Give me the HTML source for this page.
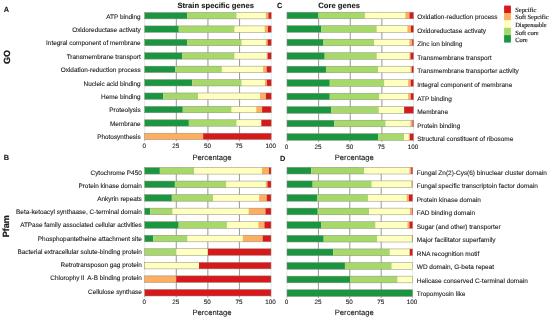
<!DOCTYPE html>
<html><head><meta charset="utf-8"><title>Figure</title>
<style>
html,body{margin:0;padding:0;background:#fff;}
svg{display:block;}
text{font-family:"Liberation Sans","Noto Sans CJK SC",sans-serif;fill:#1a1a1a;stroke:#1a1a1a;stroke-width:0.1px;text-rendering:geometricPrecision;}

.tk{font-size:6.3px;}
.ax{font-size:7.65px;}
.tt{font-size:7.65px;font-weight:bold;}
.pl{font-size:7.4px;font-weight:bold;}
.yl{font-size:9px;font-weight:bold;stroke-width:0.2px;}
.lg{font-family:"Liberation Serif",serif;font-size:6.45px;stroke-width:0.15px;}
</style></head><body>
<svg width="550" height="318" viewBox="0 0 550 318">
<rect width="550" height="318" fill="#fff"/>
<line x1="176.32" y1="12.50" x2="176.32" y2="141.20" stroke="#4a4a4a" stroke-width="0.58"/>
<line x1="207.95" y1="12.50" x2="207.95" y2="141.20" stroke="#4a4a4a" stroke-width="0.58"/>
<line x1="239.57" y1="12.50" x2="239.57" y2="141.20" stroke="#4a4a4a" stroke-width="0.58"/>
<line x1="144.70" y1="139.60" x2="144.70" y2="141.20" stroke="#999" stroke-width="0.6"/>
<line x1="271.20" y1="139.60" x2="271.20" y2="141.20" stroke="#999" stroke-width="0.6"/>
<line x1="144.70" y1="12.50" x2="144.70" y2="139.60" stroke="#cfd3d8" stroke-width="0.5"/>
<line x1="271.20" y1="12.50" x2="271.20" y2="139.60" stroke="#cfd3d8" stroke-width="0.5"/>
<rect x="144.70" y="12.50" width="42.38" height="6.40" fill="#1a9641"/>
<rect x="187.08" y="12.50" width="49.59" height="6.40" fill="#a6d96a"/>
<rect x="236.67" y="12.50" width="29.22" height="6.40" fill="#ffffbf"/>
<rect x="265.89" y="12.50" width="2.53" height="6.40" fill="#fdae61"/>
<rect x="268.42" y="12.50" width="2.78" height="6.40" fill="#d7191c"/>
<rect x="144.70" y="12.50" width="126.50" height="6.40" fill="none" stroke="#8c8c7a" stroke-width="0.5"/>
<text x="140.70" y="18.60" text-anchor="end" class="lb" font-size="6.43">ATP binding</text>
<rect x="144.70" y="25.91" width="34.03" height="6.40" fill="#1a9641"/>
<rect x="178.73" y="25.91" width="55.91" height="6.40" fill="#a6d96a"/>
<rect x="234.64" y="25.91" width="29.98" height="6.40" fill="#ffffbf"/>
<rect x="264.62" y="25.91" width="3.29" height="6.40" fill="#fdae61"/>
<rect x="267.91" y="25.91" width="3.29" height="6.40" fill="#d7191c"/>
<rect x="144.70" y="25.91" width="126.50" height="6.40" fill="none" stroke="#8c8c7a" stroke-width="0.5"/>
<text x="140.70" y="32.01" text-anchor="end" class="lb" font-size="6.43">Oxidoreductase activaty</text>
<rect x="144.70" y="39.32" width="42.38" height="6.40" fill="#1a9641"/>
<rect x="187.08" y="39.32" width="54.65" height="6.40" fill="#a6d96a"/>
<rect x="241.73" y="39.32" width="24.16" height="6.40" fill="#ffffbf"/>
<rect x="265.89" y="39.32" width="1.77" height="6.40" fill="#fdae61"/>
<rect x="267.66" y="39.32" width="3.54" height="6.40" fill="#d7191c"/>
<rect x="144.70" y="39.32" width="126.50" height="6.40" fill="none" stroke="#8c8c7a" stroke-width="0.5"/>
<text x="140.70" y="45.42" text-anchor="end" class="lb" font-size="6.43">Integral component of membrane</text>
<rect x="144.70" y="52.73" width="37.32" height="6.40" fill="#1a9641"/>
<rect x="182.02" y="52.73" width="52.62" height="6.40" fill="#a6d96a"/>
<rect x="234.64" y="52.73" width="32.00" height="6.40" fill="#ffffbf"/>
<rect x="266.65" y="52.73" width="1.01" height="6.40" fill="#fdae61"/>
<rect x="267.66" y="52.73" width="3.54" height="6.40" fill="#d7191c"/>
<rect x="144.70" y="52.73" width="126.50" height="6.40" fill="none" stroke="#8c8c7a" stroke-width="0.5"/>
<text x="140.70" y="58.83" text-anchor="end" class="lb" font-size="6.43">Transmembrane transport</text>
<rect x="144.70" y="66.14" width="30.49" height="6.40" fill="#1a9641"/>
<rect x="175.19" y="66.14" width="46.68" height="6.40" fill="#a6d96a"/>
<rect x="221.87" y="66.14" width="41.24" height="6.40" fill="#ffffbf"/>
<rect x="263.10" y="66.14" width="3.54" height="6.40" fill="#fdae61"/>
<rect x="266.65" y="66.14" width="4.55" height="6.40" fill="#d7191c"/>
<rect x="144.70" y="66.14" width="126.50" height="6.40" fill="none" stroke="#8c8c7a" stroke-width="0.5"/>
<text x="140.70" y="72.24" text-anchor="end" class="lb" font-size="6.43">Oxidation-reduction process</text>
<rect x="144.70" y="79.56" width="47.56" height="6.40" fill="#1a9641"/>
<rect x="192.26" y="79.56" width="49.46" height="6.40" fill="#a6d96a"/>
<rect x="241.73" y="79.56" width="23.15" height="6.40" fill="#ffffbf"/>
<rect x="264.88" y="79.56" width="2.02" height="6.40" fill="#fdae61"/>
<rect x="266.90" y="79.56" width="4.30" height="6.40" fill="#d7191c"/>
<rect x="144.70" y="79.56" width="126.50" height="6.40" fill="none" stroke="#8c8c7a" stroke-width="0.5"/>
<text x="140.70" y="85.66" text-anchor="end" class="lb" font-size="6.43">Nucleic acid binding</text>
<rect x="144.70" y="92.97" width="18.34" height="6.40" fill="#1a9641"/>
<rect x="163.04" y="92.97" width="35.04" height="6.40" fill="#a6d96a"/>
<rect x="198.08" y="92.97" width="61.98" height="6.40" fill="#ffffbf"/>
<rect x="260.07" y="92.97" width="5.82" height="6.40" fill="#fdae61"/>
<rect x="265.89" y="92.97" width="5.31" height="6.40" fill="#d7191c"/>
<rect x="144.70" y="92.97" width="126.50" height="6.40" fill="none" stroke="#8c8c7a" stroke-width="0.5"/>
<text x="140.70" y="99.07" text-anchor="end" class="lb" font-size="6.43">Heme binding</text>
<rect x="144.70" y="106.38" width="38.08" height="6.40" fill="#1a9641"/>
<rect x="182.78" y="106.38" width="48.83" height="6.40" fill="#a6d96a"/>
<rect x="231.61" y="106.38" width="24.67" height="6.40" fill="#ffffbf"/>
<rect x="256.27" y="106.38" width="5.82" height="6.40" fill="#fdae61"/>
<rect x="262.09" y="106.38" width="9.11" height="6.40" fill="#d7191c"/>
<rect x="144.70" y="106.38" width="126.50" height="6.40" fill="none" stroke="#8c8c7a" stroke-width="0.5"/>
<text x="140.70" y="112.48" text-anchor="end" class="lb" font-size="6.43">Proteolysis</text>
<rect x="144.70" y="119.79" width="44.15" height="6.40" fill="#1a9641"/>
<rect x="188.85" y="119.79" width="47.82" height="6.40" fill="#a6d96a"/>
<rect x="236.67" y="119.79" width="24.67" height="6.40" fill="#ffffbf"/>
<rect x="261.33" y="119.79" width="9.87" height="6.40" fill="#d7191c"/>
<rect x="144.70" y="119.79" width="126.50" height="6.40" fill="none" stroke="#8c8c7a" stroke-width="0.5"/>
<text x="140.70" y="125.89" text-anchor="end" class="lb" font-size="6.43">Membrane</text>
<rect x="144.70" y="133.20" width="58.44" height="6.40" fill="#fdae61"/>
<rect x="203.14" y="133.20" width="68.06" height="6.40" fill="#d7191c"/>
<rect x="144.70" y="133.20" width="126.50" height="6.40" fill="none" stroke="#8c8c7a" stroke-width="0.5"/>
<text x="140.70" y="139.30" text-anchor="end" class="lb" font-size="6.43">Photosynthesis</text>
<text x="144.20" y="148.20" text-anchor="middle" class="tk">0</text>
<text x="175.82" y="148.20" text-anchor="middle" class="tk">25</text>
<text x="207.45" y="148.20" text-anchor="middle" class="tk">50</text>
<text x="239.07" y="148.20" text-anchor="middle" class="tk">75</text>
<text x="270.70" y="148.20" text-anchor="middle" class="tk">100</text>
<text x="212.00" y="159.50" text-anchor="middle" class="ax">Percentage</text>
<line x1="318.62" y1="12.20" x2="318.62" y2="141.90" stroke="#4a4a4a" stroke-width="0.58"/>
<line x1="350.25" y1="12.20" x2="350.25" y2="141.90" stroke="#4a4a4a" stroke-width="0.58"/>
<line x1="381.88" y1="12.20" x2="381.88" y2="141.90" stroke="#4a4a4a" stroke-width="0.58"/>
<line x1="287.00" y1="140.30" x2="287.00" y2="141.90" stroke="#999" stroke-width="0.6"/>
<line x1="413.50" y1="140.30" x2="413.50" y2="141.90" stroke="#999" stroke-width="0.6"/>
<line x1="287.00" y1="12.20" x2="287.00" y2="140.30" stroke="#cfd3d8" stroke-width="0.5"/>
<line x1="413.50" y1="12.20" x2="413.50" y2="140.30" stroke="#cfd3d8" stroke-width="0.5"/>
<rect x="287.00" y="12.20" width="31.25" height="6.60" fill="#1a9641"/>
<rect x="318.25" y="12.20" width="46.68" height="6.60" fill="#a6d96a"/>
<rect x="364.92" y="12.20" width="40.48" height="6.60" fill="#ffffbf"/>
<rect x="405.40" y="12.20" width="4.05" height="6.60" fill="#fdae61"/>
<rect x="409.45" y="12.20" width="4.05" height="6.60" fill="#d7191c"/>
<rect x="287.00" y="12.20" width="126.50" height="6.60" fill="none" stroke="#8c8c7a" stroke-width="0.5"/>
<text x="417.20" y="19.30" text-anchor="start" class="lb" font-size="6.46">Oxidation-reduction process</text>
<rect x="287.00" y="25.70" width="34.41" height="6.60" fill="#1a9641"/>
<rect x="321.41" y="25.70" width="55.41" height="6.60" fill="#a6d96a"/>
<rect x="376.81" y="25.70" width="30.61" height="6.60" fill="#ffffbf"/>
<rect x="407.43" y="25.70" width="3.54" height="6.60" fill="#fdae61"/>
<rect x="410.97" y="25.70" width="2.53" height="6.60" fill="#d7191c"/>
<rect x="287.00" y="25.70" width="126.50" height="6.60" fill="none" stroke="#8c8c7a" stroke-width="0.5"/>
<text x="417.20" y="32.83" text-anchor="start" class="lb" font-size="6.46">Oxidoreductase activaty</text>
<rect x="287.00" y="39.20" width="36.43" height="6.60" fill="#1a9641"/>
<rect x="323.43" y="39.20" width="50.85" height="6.60" fill="#a6d96a"/>
<rect x="374.28" y="39.20" width="35.17" height="6.60" fill="#ffffbf"/>
<rect x="409.45" y="39.20" width="2.78" height="6.60" fill="#fdae61"/>
<rect x="412.24" y="39.20" width="1.26" height="6.60" fill="#d7191c"/>
<rect x="287.00" y="39.20" width="126.50" height="6.60" fill="none" stroke="#8c8c7a" stroke-width="0.5"/>
<text x="417.20" y="46.37" text-anchor="start" class="lb" font-size="6.46">Zinc ion binding</text>
<rect x="287.00" y="52.70" width="37.70" height="6.60" fill="#1a9641"/>
<rect x="324.70" y="52.70" width="52.12" height="6.60" fill="#a6d96a"/>
<rect x="376.81" y="52.70" width="32.64" height="6.60" fill="#ffffbf"/>
<rect x="409.45" y="52.70" width="1.01" height="6.60" fill="#fdae61"/>
<rect x="410.46" y="52.70" width="3.04" height="6.60" fill="#d7191c"/>
<rect x="287.00" y="52.70" width="126.50" height="6.60" fill="none" stroke="#8c8c7a" stroke-width="0.5"/>
<text x="417.20" y="59.90" text-anchor="start" class="lb" font-size="6.46">Transmembrane transport</text>
<rect x="287.00" y="66.20" width="38.96" height="6.60" fill="#1a9641"/>
<rect x="325.96" y="66.20" width="52.12" height="6.60" fill="#a6d96a"/>
<rect x="378.08" y="66.20" width="32.38" height="6.60" fill="#ffffbf"/>
<rect x="410.46" y="66.20" width="1.26" height="6.60" fill="#fdae61"/>
<rect x="411.73" y="66.20" width="1.77" height="6.60" fill="#d7191c"/>
<rect x="287.00" y="66.20" width="126.50" height="6.60" fill="none" stroke="#8c8c7a" stroke-width="0.5"/>
<text x="417.20" y="73.43" text-anchor="start" class="lb" font-size="6.46">Transmembrane transporter activity</text>
<rect x="287.00" y="79.70" width="42.76" height="6.60" fill="#1a9641"/>
<rect x="329.76" y="79.70" width="54.65" height="6.60" fill="#a6d96a"/>
<rect x="384.40" y="79.70" width="23.78" height="6.60" fill="#ffffbf"/>
<rect x="408.19" y="79.70" width="2.53" height="6.60" fill="#fdae61"/>
<rect x="410.72" y="79.70" width="2.78" height="6.60" fill="#d7191c"/>
<rect x="287.00" y="79.70" width="126.50" height="6.60" fill="none" stroke="#8c8c7a" stroke-width="0.5"/>
<text x="417.20" y="86.97" text-anchor="start" class="lb" font-size="6.46">Integral component of membrane</text>
<rect x="287.00" y="93.20" width="42.76" height="6.60" fill="#1a9641"/>
<rect x="329.76" y="93.20" width="49.59" height="6.60" fill="#a6d96a"/>
<rect x="379.35" y="93.20" width="28.84" height="6.60" fill="#ffffbf"/>
<rect x="408.19" y="93.20" width="2.53" height="6.60" fill="#fdae61"/>
<rect x="410.72" y="93.20" width="2.78" height="6.60" fill="#d7191c"/>
<rect x="287.00" y="93.20" width="126.50" height="6.60" fill="none" stroke="#8c8c7a" stroke-width="0.5"/>
<text x="417.20" y="100.50" text-anchor="start" class="lb" font-size="6.46">ATP binding</text>
<rect x="287.00" y="106.70" width="44.02" height="6.60" fill="#1a9641"/>
<rect x="331.02" y="106.70" width="47.82" height="6.60" fill="#a6d96a"/>
<rect x="378.84" y="106.70" width="25.30" height="6.60" fill="#ffffbf"/>
<rect x="404.14" y="106.70" width="9.36" height="6.60" fill="#d7191c"/>
<rect x="287.00" y="106.70" width="126.50" height="6.60" fill="none" stroke="#8c8c7a" stroke-width="0.5"/>
<text x="417.20" y="114.03" text-anchor="start" class="lb" font-size="6.46">Membrane</text>
<rect x="287.00" y="120.20" width="47.31" height="6.60" fill="#1a9641"/>
<rect x="334.31" y="120.20" width="51.36" height="6.60" fill="#a6d96a"/>
<rect x="385.67" y="120.20" width="24.79" height="6.60" fill="#ffffbf"/>
<rect x="410.46" y="120.20" width="2.02" height="6.60" fill="#fdae61"/>
<rect x="412.49" y="120.20" width="1.01" height="6.60" fill="#d7191c"/>
<rect x="287.00" y="120.20" width="126.50" height="6.60" fill="none" stroke="#8c8c7a" stroke-width="0.5"/>
<text x="417.20" y="127.57" text-anchor="start" class="lb" font-size="6.46">Protein binding</text>
<rect x="287.00" y="133.70" width="91.08" height="6.60" fill="#1a9641"/>
<rect x="378.08" y="133.70" width="26.06" height="6.60" fill="#a6d96a"/>
<rect x="404.14" y="133.70" width="4.55" height="6.60" fill="#ffffbf"/>
<rect x="408.69" y="133.70" width="1.26" height="6.60" fill="#fdae61"/>
<rect x="409.96" y="133.70" width="3.54" height="6.60" fill="#d7191c"/>
<rect x="287.00" y="133.70" width="126.50" height="6.60" fill="none" stroke="#8c8c7a" stroke-width="0.5"/>
<text x="417.20" y="141.10" text-anchor="start" class="lb" font-size="6.46">Structural constituent of ribosome</text>
<text x="286.50" y="148.50" text-anchor="middle" class="tk">0</text>
<text x="318.12" y="148.50" text-anchor="middle" class="tk">25</text>
<text x="349.75" y="148.50" text-anchor="middle" class="tk">50</text>
<text x="381.38" y="148.50" text-anchor="middle" class="tk">75</text>
<text x="413.00" y="148.50" text-anchor="middle" class="tk">100</text>
<text x="354.30" y="159.50" text-anchor="middle" class="ax">Percentage</text>
<line x1="176.27" y1="167.50" x2="176.27" y2="297.60" stroke="#4a4a4a" stroke-width="0.58"/>
<line x1="207.85" y1="167.50" x2="207.85" y2="297.60" stroke="#4a4a4a" stroke-width="0.58"/>
<line x1="239.42" y1="167.50" x2="239.42" y2="297.60" stroke="#4a4a4a" stroke-width="0.58"/>
<line x1="144.70" y1="296.00" x2="144.70" y2="297.60" stroke="#999" stroke-width="0.6"/>
<line x1="271.00" y1="296.00" x2="271.00" y2="297.60" stroke="#999" stroke-width="0.6"/>
<line x1="144.70" y1="167.50" x2="144.70" y2="296.00" stroke="#cfd3d8" stroke-width="0.5"/>
<line x1="271.00" y1="167.50" x2="271.00" y2="296.00" stroke="#cfd3d8" stroke-width="0.5"/>
<rect x="144.70" y="167.50" width="15.16" height="6.60" fill="#1a9641"/>
<rect x="159.86" y="167.50" width="34.35" height="6.60" fill="#a6d96a"/>
<rect x="194.21" y="167.50" width="67.70" height="6.60" fill="#ffffbf"/>
<rect x="261.91" y="167.50" width="7.07" height="6.60" fill="#fdae61"/>
<rect x="268.98" y="167.50" width="2.02" height="6.60" fill="#d7191c"/>
<rect x="144.70" y="167.50" width="126.30" height="6.60" fill="none" stroke="#8c8c7a" stroke-width="0.5"/>
<text x="141.80" y="174.50" text-anchor="end" class="lb" font-size="6.42">Cytochrome P450</text>
<rect x="144.70" y="181.04" width="30.19" height="6.60" fill="#1a9641"/>
<rect x="174.89" y="181.04" width="51.53" height="6.60" fill="#a6d96a"/>
<rect x="226.42" y="181.04" width="39.28" height="6.60" fill="#ffffbf"/>
<rect x="265.70" y="181.04" width="1.77" height="6.60" fill="#fdae61"/>
<rect x="267.46" y="181.04" width="3.54" height="6.60" fill="#d7191c"/>
<rect x="144.70" y="181.04" width="126.30" height="6.60" fill="none" stroke="#8c8c7a" stroke-width="0.5"/>
<text x="141.80" y="187.74" text-anchor="end" class="lb" font-size="6.42">Protein kinase domain</text>
<rect x="144.70" y="194.59" width="27.15" height="6.60" fill="#1a9641"/>
<rect x="171.85" y="194.59" width="41.30" height="6.60" fill="#a6d96a"/>
<rect x="213.15" y="194.59" width="45.97" height="6.60" fill="#ffffbf"/>
<rect x="259.13" y="194.59" width="7.58" height="6.60" fill="#fdae61"/>
<rect x="266.71" y="194.59" width="4.29" height="6.60" fill="#d7191c"/>
<rect x="144.70" y="194.59" width="126.30" height="6.60" fill="none" stroke="#8c8c7a" stroke-width="0.5"/>
<text x="141.80" y="200.99" text-anchor="end" class="lb" font-size="6.42">Ankyrin repeats</text>
<rect x="144.70" y="208.13" width="5.56" height="6.60" fill="#1a9641"/>
<rect x="150.26" y="208.13" width="22.36" height="6.60" fill="#a6d96a"/>
<rect x="172.61" y="208.13" width="76.03" height="6.60" fill="#ffffbf"/>
<rect x="248.64" y="208.13" width="16.80" height="6.60" fill="#fdae61"/>
<rect x="265.44" y="208.13" width="5.56" height="6.60" fill="#d7191c"/>
<rect x="144.70" y="208.13" width="126.30" height="6.60" fill="none" stroke="#8c8c7a" stroke-width="0.5"/>
<text x="141.80" y="214.23" text-anchor="end" class="lb" font-size="6.42">Beta-ketoacyl synthaase, C-terminal domain</text>
<rect x="144.70" y="221.68" width="33.97" height="6.60" fill="#1a9641"/>
<rect x="178.67" y="221.68" width="48.25" height="6.60" fill="#a6d96a"/>
<rect x="226.92" y="221.68" width="31.45" height="6.60" fill="#ffffbf"/>
<rect x="258.37" y="221.68" width="6.06" height="6.60" fill="#fdae61"/>
<rect x="264.43" y="221.68" width="6.57" height="6.60" fill="#d7191c"/>
<rect x="144.70" y="221.68" width="126.30" height="6.60" fill="none" stroke="#8c8c7a" stroke-width="0.5"/>
<text x="141.80" y="227.48" text-anchor="end" class="lb" font-size="6.42">ATPase family associated cellular activities</text>
<rect x="144.70" y="235.22" width="8.59" height="6.60" fill="#1a9641"/>
<rect x="153.29" y="235.22" width="34.23" height="6.60" fill="#a6d96a"/>
<rect x="187.52" y="235.22" width="55.32" height="6.60" fill="#ffffbf"/>
<rect x="242.84" y="235.22" width="19.83" height="6.60" fill="#fdae61"/>
<rect x="262.66" y="235.22" width="8.34" height="6.60" fill="#d7191c"/>
<rect x="144.70" y="235.22" width="126.30" height="6.60" fill="none" stroke="#8c8c7a" stroke-width="0.5"/>
<text x="141.80" y="240.72" text-anchor="end" class="lb" font-size="6.42">Phosphopantetheine attachment site</text>
<rect x="144.70" y="248.77" width="31.58" height="6.60" fill="#a6d96a"/>
<rect x="176.27" y="248.77" width="31.58" height="6.60" fill="#ffffbf"/>
<rect x="207.85" y="248.77" width="63.15" height="6.60" fill="#d7191c"/>
<rect x="144.70" y="248.77" width="126.30" height="6.60" fill="none" stroke="#8c8c7a" stroke-width="0.5"/>
<text x="141.80" y="253.97" text-anchor="end" class="lb" font-size="6.42">Bacterial extracellular solute-binding protein</text>
<rect x="144.70" y="262.31" width="54.31" height="6.60" fill="#ffffbf"/>
<rect x="199.01" y="262.31" width="71.99" height="6.60" fill="#d7191c"/>
<rect x="144.70" y="262.31" width="126.30" height="6.60" fill="none" stroke="#8c8c7a" stroke-width="0.5"/>
<text x="141.80" y="267.21" text-anchor="end" class="lb" font-size="6.42">Retrotransposon gag protein</text>
<rect x="144.70" y="275.86" width="31.58" height="6.60" fill="#fdae61"/>
<rect x="176.27" y="275.86" width="94.72" height="6.60" fill="#d7191c"/>
<rect x="144.70" y="275.86" width="126.30" height="6.60" fill="none" stroke="#8c8c7a" stroke-width="0.5"/>
<text x="141.80" y="280.46" text-anchor="end" class="lb" font-size="6.42">ChlorophyⅡ A-B binding protein</text>
<rect x="144.70" y="289.40" width="126.30" height="6.60" fill="#d7191c"/>
<rect x="144.70" y="289.40" width="126.30" height="6.60" fill="none" stroke="#8c8c7a" stroke-width="0.5"/>
<text x="141.80" y="293.70" text-anchor="end" class="lb" font-size="6.42">Cellulose synthase</text>
<text x="144.20" y="304.30" text-anchor="middle" class="tk">0</text>
<text x="175.77" y="304.30" text-anchor="middle" class="tk">25</text>
<text x="207.35" y="304.30" text-anchor="middle" class="tk">50</text>
<text x="238.92" y="304.30" text-anchor="middle" class="tk">75</text>
<text x="270.50" y="304.30" text-anchor="middle" class="tk">100</text>
<text x="212.00" y="314.50" text-anchor="middle" class="ax">Percentage</text>
<line x1="318.40" y1="167.30" x2="318.40" y2="298.05" stroke="#4a4a4a" stroke-width="0.58"/>
<line x1="349.80" y1="167.30" x2="349.80" y2="298.05" stroke="#4a4a4a" stroke-width="0.58"/>
<line x1="381.20" y1="167.30" x2="381.20" y2="298.05" stroke="#4a4a4a" stroke-width="0.58"/>
<line x1="287.00" y1="296.45" x2="287.00" y2="298.05" stroke="#999" stroke-width="0.6"/>
<line x1="412.60" y1="296.45" x2="412.60" y2="298.05" stroke="#999" stroke-width="0.6"/>
<line x1="287.00" y1="167.30" x2="287.00" y2="296.45" stroke="#cfd3d8" stroke-width="0.5"/>
<line x1="412.60" y1="167.30" x2="412.60" y2="296.45" stroke="#cfd3d8" stroke-width="0.5"/>
<rect x="287.00" y="167.30" width="24.15" height="6.70" fill="#1a9641"/>
<rect x="311.15" y="167.30" width="53.00" height="6.70" fill="#a6d96a"/>
<rect x="364.16" y="167.30" width="45.28" height="6.70" fill="#ffffbf"/>
<rect x="409.43" y="167.30" width="1.77" height="6.70" fill="#fdae61"/>
<rect x="411.21" y="167.30" width="1.39" height="6.70" fill="#d7191c"/>
<rect x="287.00" y="167.30" width="125.60" height="6.70" fill="none" stroke="#8c8c7a" stroke-width="0.5"/>
<text x="416.80" y="174.70" text-anchor="start" class="lb" font-size="6.48">Fungal Zn(2)-Cys(6) binuclear cluster domain</text>
<rect x="287.00" y="180.91" width="25.67" height="6.70" fill="#1a9641"/>
<rect x="312.67" y="180.91" width="59.07" height="6.70" fill="#a6d96a"/>
<rect x="371.74" y="180.91" width="39.46" height="6.70" fill="#ffffbf"/>
<rect x="411.21" y="180.91" width="1.39" height="6.70" fill="#fdae61"/>
<rect x="287.00" y="180.91" width="125.60" height="6.70" fill="none" stroke="#8c8c7a" stroke-width="0.5"/>
<text x="416.80" y="188.18" text-anchor="start" class="lb" font-size="6.48">Fungal specific transcriptoin factor domain</text>
<rect x="287.00" y="194.51" width="29.98" height="6.70" fill="#1a9641"/>
<rect x="316.98" y="194.51" width="50.97" height="6.70" fill="#a6d96a"/>
<rect x="367.95" y="194.51" width="38.70" height="6.70" fill="#ffffbf"/>
<rect x="406.65" y="194.51" width="2.27" height="6.70" fill="#fdae61"/>
<rect x="408.92" y="194.51" width="3.68" height="6.70" fill="#d7191c"/>
<rect x="287.00" y="194.51" width="125.60" height="6.70" fill="none" stroke="#8c8c7a" stroke-width="0.5"/>
<text x="416.80" y="201.66" text-anchor="start" class="lb" font-size="6.48">Protein kinase domain</text>
<rect x="287.00" y="208.12" width="30.73" height="6.70" fill="#1a9641"/>
<rect x="317.73" y="208.12" width="51.47" height="6.70" fill="#a6d96a"/>
<rect x="369.21" y="208.12" width="40.73" height="6.70" fill="#ffffbf"/>
<rect x="409.94" y="208.12" width="2.02" height="6.70" fill="#fdae61"/>
<rect x="411.96" y="208.12" width="0.64" height="6.70" fill="#d7191c"/>
<rect x="287.00" y="208.12" width="125.60" height="6.70" fill="none" stroke="#8c8c7a" stroke-width="0.5"/>
<text x="416.80" y="215.13" text-anchor="start" class="lb" font-size="6.48">FAD binding domain</text>
<rect x="287.00" y="221.72" width="34.40" height="6.70" fill="#1a9641"/>
<rect x="321.40" y="221.72" width="54.13" height="6.70" fill="#a6d96a"/>
<rect x="375.54" y="221.72" width="31.88" height="6.70" fill="#ffffbf"/>
<rect x="407.41" y="221.72" width="2.02" height="6.70" fill="#fdae61"/>
<rect x="409.43" y="221.72" width="3.17" height="6.70" fill="#d7191c"/>
<rect x="287.00" y="221.72" width="125.60" height="6.70" fill="none" stroke="#8c8c7a" stroke-width="0.5"/>
<text x="416.80" y="228.61" text-anchor="start" class="lb" font-size="6.48">Sugar (and other) transporter</text>
<rect x="287.00" y="235.33" width="36.68" height="6.70" fill="#1a9641"/>
<rect x="323.68" y="235.33" width="53.38" height="6.70" fill="#a6d96a"/>
<rect x="377.06" y="235.33" width="34.65" height="6.70" fill="#ffffbf"/>
<rect x="411.71" y="235.33" width="0.75" height="6.70" fill="#fdae61"/>
<rect x="412.46" y="235.33" width="0.14" height="6.70" fill="#d7191c"/>
<rect x="287.00" y="235.33" width="125.60" height="6.70" fill="none" stroke="#8c8c7a" stroke-width="0.5"/>
<text x="416.80" y="242.09" text-anchor="start" class="lb" font-size="6.48">Major facilitator superfamily</text>
<rect x="287.00" y="248.93" width="46.17" height="6.70" fill="#1a9641"/>
<rect x="333.17" y="248.93" width="56.66" height="6.70" fill="#a6d96a"/>
<rect x="389.83" y="248.93" width="19.35" height="6.70" fill="#ffffbf"/>
<rect x="409.18" y="248.93" width="0.75" height="6.70" fill="#fdae61"/>
<rect x="409.94" y="248.93" width="2.66" height="6.70" fill="#d7191c"/>
<rect x="287.00" y="248.93" width="125.60" height="6.70" fill="none" stroke="#8c8c7a" stroke-width="0.5"/>
<text x="416.80" y="255.57" text-anchor="start" class="lb" font-size="6.48">RNA recognition motif</text>
<rect x="287.00" y="262.54" width="57.93" height="6.70" fill="#1a9641"/>
<rect x="344.93" y="262.54" width="46.80" height="6.70" fill="#a6d96a"/>
<rect x="391.73" y="262.54" width="20.87" height="6.70" fill="#ffffbf"/>
<rect x="287.00" y="262.54" width="125.60" height="6.70" fill="none" stroke="#8c8c7a" stroke-width="0.5"/>
<text x="416.80" y="269.04" text-anchor="start" class="lb" font-size="6.48">WD domain, G-beta repeat</text>
<rect x="287.00" y="276.14" width="63.24" height="6.70" fill="#1a9641"/>
<rect x="350.24" y="276.14" width="47.30" height="6.70" fill="#a6d96a"/>
<rect x="397.54" y="276.14" width="15.06" height="6.70" fill="#ffffbf"/>
<rect x="287.00" y="276.14" width="125.60" height="6.70" fill="none" stroke="#8c8c7a" stroke-width="0.5"/>
<text x="416.80" y="282.52" text-anchor="start" class="lb" font-size="6.48">Helicase conserved C-terminal domain</text>
<rect x="287.00" y="289.75" width="125.60" height="6.70" fill="#1a9641"/>
<rect x="287.00" y="289.75" width="125.60" height="6.70" fill="none" stroke="#8c8c7a" stroke-width="0.5"/>
<text x="416.80" y="296.00" text-anchor="start" class="lb" font-size="6.48">Tropomyosin like</text>
<text x="286.50" y="304.30" text-anchor="middle" class="tk">0</text>
<text x="317.90" y="304.30" text-anchor="middle" class="tk">25</text>
<text x="349.30" y="304.30" text-anchor="middle" class="tk">50</text>
<text x="380.70" y="304.30" text-anchor="middle" class="tk">75</text>
<text x="412.10" y="304.30" text-anchor="middle" class="tk">100</text>
<text x="354.30" y="314.50" text-anchor="middle" class="ax">Percentage</text>
<text x="215.7" y="7.7" text-anchor="middle" class="tt">Strain specific genes</text>
<text x="339.1" y="7.8" text-anchor="middle" class="tt">Core genes</text>
<text x="3.8" y="11.6" class="pl">A</text>
<text x="3.8" y="159.5" class="pl">B</text>
<text x="276.9" y="7.7" class="pl">C</text>
<text x="280.0" y="161.3" class="pl">D</text>
<text transform="translate(9.6,57) rotate(-90)" text-anchor="middle" class="yl">GO</text>
<text transform="translate(9.4,226.2) rotate(-90)" text-anchor="middle" class="yl">Pfam</text>
<rect x="504.1" y="5.60" width="6.8" height="7.45" fill="#d7191c"/>
<text x="515.2" y="11.50" class="lg">Sepcific</text>
<rect x="504.1" y="12.98" width="6.8" height="7.45" fill="#fdae61"/>
<text x="515.2" y="19.18" class="lg">Soft Sepcific</text>
<rect x="504.1" y="20.36" width="6.8" height="7.45" fill="#ffffbf"/>
<text x="515.2" y="26.86" class="lg">Dispensable</text>
<rect x="504.1" y="27.74" width="6.8" height="7.45" fill="#a6d96a"/>
<text x="515.2" y="34.54" class="lg">Soft core</text>
<rect x="504.1" y="35.12" width="6.8" height="7.45" fill="#1a9641"/>
<text x="515.2" y="42.22" class="lg">Core</text>
</svg>
</body></html>
